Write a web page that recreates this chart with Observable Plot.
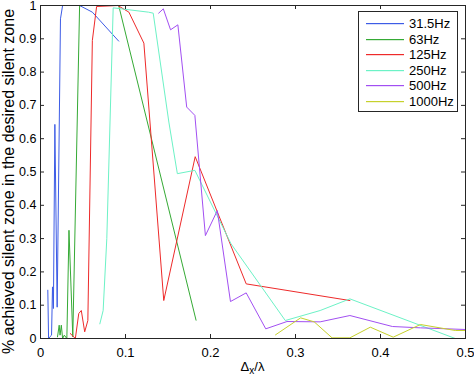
<!DOCTYPE html>
<html><head><meta charset="utf-8">
<script src="https://cdn.jsdelivr.net/npm/d3@7"></script>
<script src="https://cdn.jsdelivr.net/npm/@observablehq/plot@0.6"></script>
<style>
html,body{margin:0;padding:0;background:#fff;}
#wrap{position:relative;width:474px;height:378px;font-family:"Liberation Sans",Arial,sans-serif;}
#legend{position:absolute;left:358px;top:11px;width:100px;height:101px;}
</style></head><body><div id="wrap"></div>
<script>
const freqs = ["31.5Hz","63Hz","125Hz","250Hz","500Hz","1000Hz"];
const colors = ["#3d5ce6","#35aa35","#ee2a2a","#6cf2c6","#a24ff2","#c6d12c"];
const xTicks = [0,0.1,0.2,0.3,0.4,0.5];
const yTicks = [0,0.1,0.2,0.3,0.4,0.5,0.6,0.7,0.8,0.9,1];

const x31 = [0.0086,0.0095,0.011,0.013,0.0141,0.0152,0.0169,0.0196,0.0235,0.026,0.046,0.061,0.092];
const y31 = [0.145,0.0,0.005,0.01,0.155,0.09,0.643,0.094,0.96,1.0,1.0,0.98,0.893];
const x63 = [0.020,0.022,0.023,0.0245,0.026,0.028,0.031,0.0335,0.038,0.046,0.092,0.183];
const y63 = [0.005,0.04,0.01,0.04,0.0,0.01,0.0,0.325,0.005,1.0,1.0,0.055];
const x125 = [0.035,0.041,0.045,0.048,0.052,0.0557,0.061,0.066,0.091,0.104,0.1216,0.145,0.182,0.242,0.364];
const y125 = [0.015,0.0,0.075,0.084,0.02,0.054,0.895,0.997,1.0,0.98,0.887,0.114,0.546,0.164,0.114];
const x250 = [0.0698,0.0737,0.078,0.0855,0.095,0.127,0.1326,0.151,0.161,0.1816,0.224,0.288,0.329,0.364,0.488,0.5];
const y250 = [0.044,0.084,0.3,0.993,0.99,0.98,0.977,0.65,0.495,0.505,0.285,0.054,0.084,0.119,0.0,0.0];
const x500 = [0.139,0.1445,0.153,0.1616,0.172,0.1816,0.194,0.208,0.2235,0.242,0.265,0.290,0.329,0.364,0.414,0.447,0.5];
const y500 = [0.977,0.99,0.927,0.942,0.695,0.67,0.309,0.384,0.111,0.137,0.029,0.051,0.05,0.069,0.036,0.032,0.027];
const x1000 = [0.2765,0.306,0.322,0.343,0.364,0.388,0.415,0.447,0.488,0.5];
const y1000 = [0.011,0.062,0.05,0.002,0.002,0.034,0.004,0.042,0.024,0.024];

const series = [[x31,y31],[x63,y63],[x125,y125],[x250,y250],[x500,y500],[x1000,y1000]];
const rows = [];
series.forEach(([xs,ys],i)=>xs.forEach((x,j)=>rows.push({f:freqs[i],x,y:ys[j]})));

const W=474,H=378,mL=40,mR=9,mT=5,mB=40;
const innerW=W-mL-mR, innerH=H-mT-mB;
const fmt = d3.format("~g");
const axisColor = "#262626";
const font = '"Liberation Sans", Arial, sans-serif';

const chart = Plot.plot({
  width:W,height:H,marginLeft:mL,marginRight:mR,marginTop:mT,marginBottom:mB,
  style:{fontFamily:font,fontSize:"12.5px",color:"#000",background:"#fff",overflow:"visible"},
  x:{domain:[0,0.5]},
  y:{domain:[0,1]},
  color:{domain:freqs,range:colors},
  marks:[
    Plot.line(rows,{x:"x",y:"y",z:"f",stroke:"f",strokeWidth:1}),
    Plot.tickX(xTicks,{x:d=>d,insetTop:innerH-4,stroke:axisColor}),
    Plot.tickX(xTicks,{x:d=>d,insetBottom:innerH-4,stroke:axisColor}),
    Plot.tickY(yTicks,{y:d=>d,insetRight:innerW-4,stroke:axisColor}),
    Plot.tickY(yTicks,{y:d=>d,insetLeft:innerW-4,stroke:axisColor}),
    Plot.frame({stroke:axisColor}),
    Plot.axisX({ticks:xTicks,tickSize:0,tickPadding:9,tickFormat:fmt,label:null,fontSize:13}),
    Plot.axisY({ticks:yTicks,tickSize:0,tickPadding:4,tickFormat:fmt,label:null,fontSize:12.5})
  ]
});

const svg = d3.select(chart);
svg.append("text")
  .attr("transform",`translate(13.5,${(mT+H-mB)/2+10}) rotate(-90)`)
  .attr("text-anchor","middle")
  .attr("font-family",font).attr("font-size",16).attr("fill","#000")
  .text("% achieved silent zone in the desired silent zone");
const xl = svg.append("text")
  .attr("x",mL+innerW/2).attr("y",371)
  .attr("text-anchor","middle")
  .attr("font-family",font).attr("font-size",13).attr("fill","#000");
xl.append("tspan").text("Δ");
xl.append("tspan").attr("dy",3).attr("font-size",10).text("x");
xl.append("tspan").attr("dy",-3).text("/λ");

const wrap = document.getElementById("wrap");
wrap.appendChild(chart);

const leg = d3.select(wrap).append("div").attr("id","legend")
  .append("svg").attr("width",100).attr("height",101);
leg.append("rect").attr("x",0.5).attr("y",0.5).attr("width",99).attr("height",100)
  .attr("fill","#fff").attr("stroke",axisColor);
freqs.forEach((f,i)=>{
  const cy = Math.round(12 + i*15.6);
  leg.append("rect").attr("x",8).attr("y",cy).attr("width",38).attr("height",1.2)
    .attr("fill",colors[i]);
  leg.append("text").attr("x",51).attr("y",cy+0.5).attr("dy","0.35em")
    .attr("font-family",font).attr("font-size",13).attr("fill","#000").text(f);
});
</script></body></html>
